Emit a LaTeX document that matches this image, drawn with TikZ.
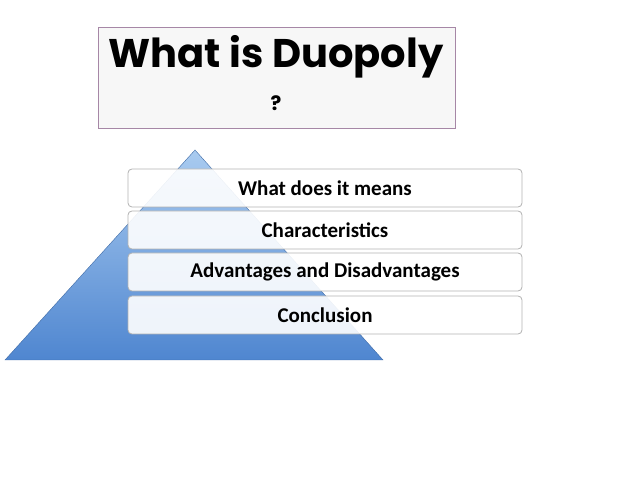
\documentclass[tikz,border=0pt]{standalone}
\usepackage{fontspec}
\newfontfamily\titlefont{Poppins}
\newfontfamily\barfont{Carlito}
\definecolor{pyrtop}{HTML}{A9CBF0}
\definecolor{pyrbot}{HTML}{4F86D0}
\begin{document}
\begin{tikzpicture}[x=1pt,y=-1pt,
  bar/.style={draw=gray!60, line width=0.8pt, rounded corners=4pt, fill=white, fill opacity=0.9, text opacity=1, minimum width=394pt, minimum height=38pt, font=\barfont\bfseries\fontsize{21}{24}\selectfont},
  titlebox/.style={draw=violet!35!gray!70, line width=0.8pt, fill=gray!6, minimum width=357pt, minimum height=101pt}]
\useasboundingbox (0,0) rectangle (638,478);
\node[titlebox] (title) at (276.5,77.5) {};
\node[font=\titlefont\bfseries\fontsize{40}{40}\selectfont] (t1) at (276,57) {What is Duopoly};
\node[font=\titlefont\bfseries\fontsize{20}{20}\selectfont] (t2) at (276,103) {?};
\shade[top color=pyrtop, bottom color=pyrbot, draw=pyrbot!80!black] (195,150) -- (383,360) -- (5,360) -- cycle;
\node[bar] (b1) at (325,188) {What does it means};
\node[bar] (b2) at (325,230) {Characteristics};
\node[bar] (b3) at (325,272) {Advantages and Disadvantages};
\node[bar] (b4) at (325,315) {Conclusion};
\end{tikzpicture}
\end{document}
